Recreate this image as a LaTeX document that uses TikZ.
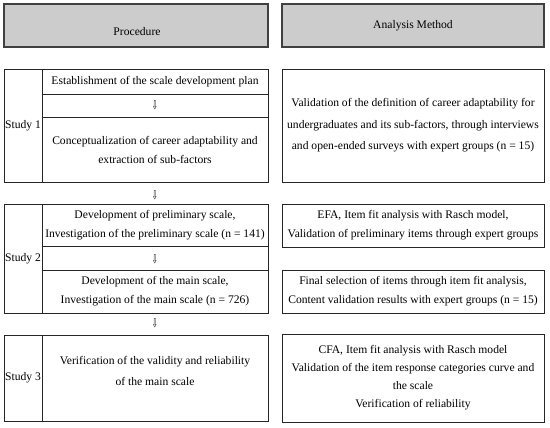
\documentclass[tikz,border=0pt]{standalone}
\usepackage{fontspec}
\setmainfont{Liberation Serif}
\newfontfamily\arrowfont{DejaVu Sans}
\begin{document}
\begin{tikzpicture}[x=1pt,y=-1pt,
  box/.style={draw=black!85, line width=0.9pt, inner sep=0pt, align=center, font=\fontsize{11.6}{19}\selectfont},
  head/.style={draw=black!75, line width=1.4pt, fill=black!20, inner sep=0pt, font=\fontsize{11.6}{19}\selectfont},
  txt/.style={align=center, inner sep=0pt, font=\fontsize{11.6}{19}\selectfont},
  arr/.style={inner sep=0pt, xscale=0.6, font=\arrowfont\fontsize{12}{12}\selectfont}]
\useasboundingbox (0,0) rectangle (550,428);
% headers
\node[head, minimum width=264, minimum height=43] (hp) at (136,25.5) {};
\node[txt] (hpt) at (137,32) {Procedure};
\node[head, minimum width=262, minimum height=43] (hm) at (413,25.5) {Analysis Method};
% Study 1
\node[box, minimum width=264, minimum height=113] (s1) at (136,125.5) {};
\node[box, minimum width=38, minimum height=113, anchor=west] (s1l) at (s1.west) {Study 1};
\node[box, minimum width=226, minimum height=25, anchor=north east] (p1) at (s1.north east) {Establishment of the scale development plan};
\node[arr] (a1) at (155,105.5) {⇩};
\node[box, minimum width=226, minimum height=65, anchor=south east] (p2) at (s1.south east) {Conceptualization of career adaptability and\\extraction of sub-factors};
\node[box, minimum width=262, minimum height=113, font=\fontsize{11.6}{21.5}\selectfont] (m1) at (413,125.5) {Validation of the definition of career adaptability for\\undergraduates and its sub-factors, through interviews\\and open-ended surveys with expert groups (n = 15)};
\node[arr] (a2) at (155,195) {⇩};
% Study 2
\node[box, minimum width=264, minimum height=109] (s2) at (136,258.5) {};
\node[box, minimum width=38, minimum height=109, anchor=west] (s2l) at (s2.west) {Study 2};
\node[box, minimum width=226, minimum height=42, anchor=north east] (p3) at (s2.north east) {Development of preliminary scale,\\Investigation of the preliminary scale (n = 141)};
\node[arr] (a3) at (155,259) {⇩};
\node[box, minimum width=226, minimum height=43, anchor=south east] (p4) at (s2.south east) {Development of the main scale,\\Investigation of the main scale (n = 726)};
\node[box, minimum width=262, minimum height=43] (m2) at (413,225.5) {EFA, Item fit analysis with Rasch model,\\Validation of preliminary items through expert groups};
\node[box, minimum width=262, minimum height=43] (m3) at (413,291.5) {Final selection of items through item fit analysis,\\Content validation results with expert groups (n = 15)};
\node[arr] (a4) at (155,323) {⇩};
% Study 3
\node[box, minimum width=264, minimum height=86] (s3) at (136,378) {};
\node[box, minimum width=38, minimum height=86, anchor=west] (s3l) at (s3.west) {Study 3};
\node[txt, font=\fontsize{11.6}{21}\selectfont] (p5) at (155,371) {Verification of the validity and reliability\\of the main scale};
\node[box, minimum width=262, minimum height=88, font=\fontsize{11.6}{18}\selectfont] (m4) at (413,378) {CFA, Item fit analysis with Rasch model\\Validation of the item response categories curve and\\the scale\\Verification of reliability};
\end{tikzpicture}
\end{document}
